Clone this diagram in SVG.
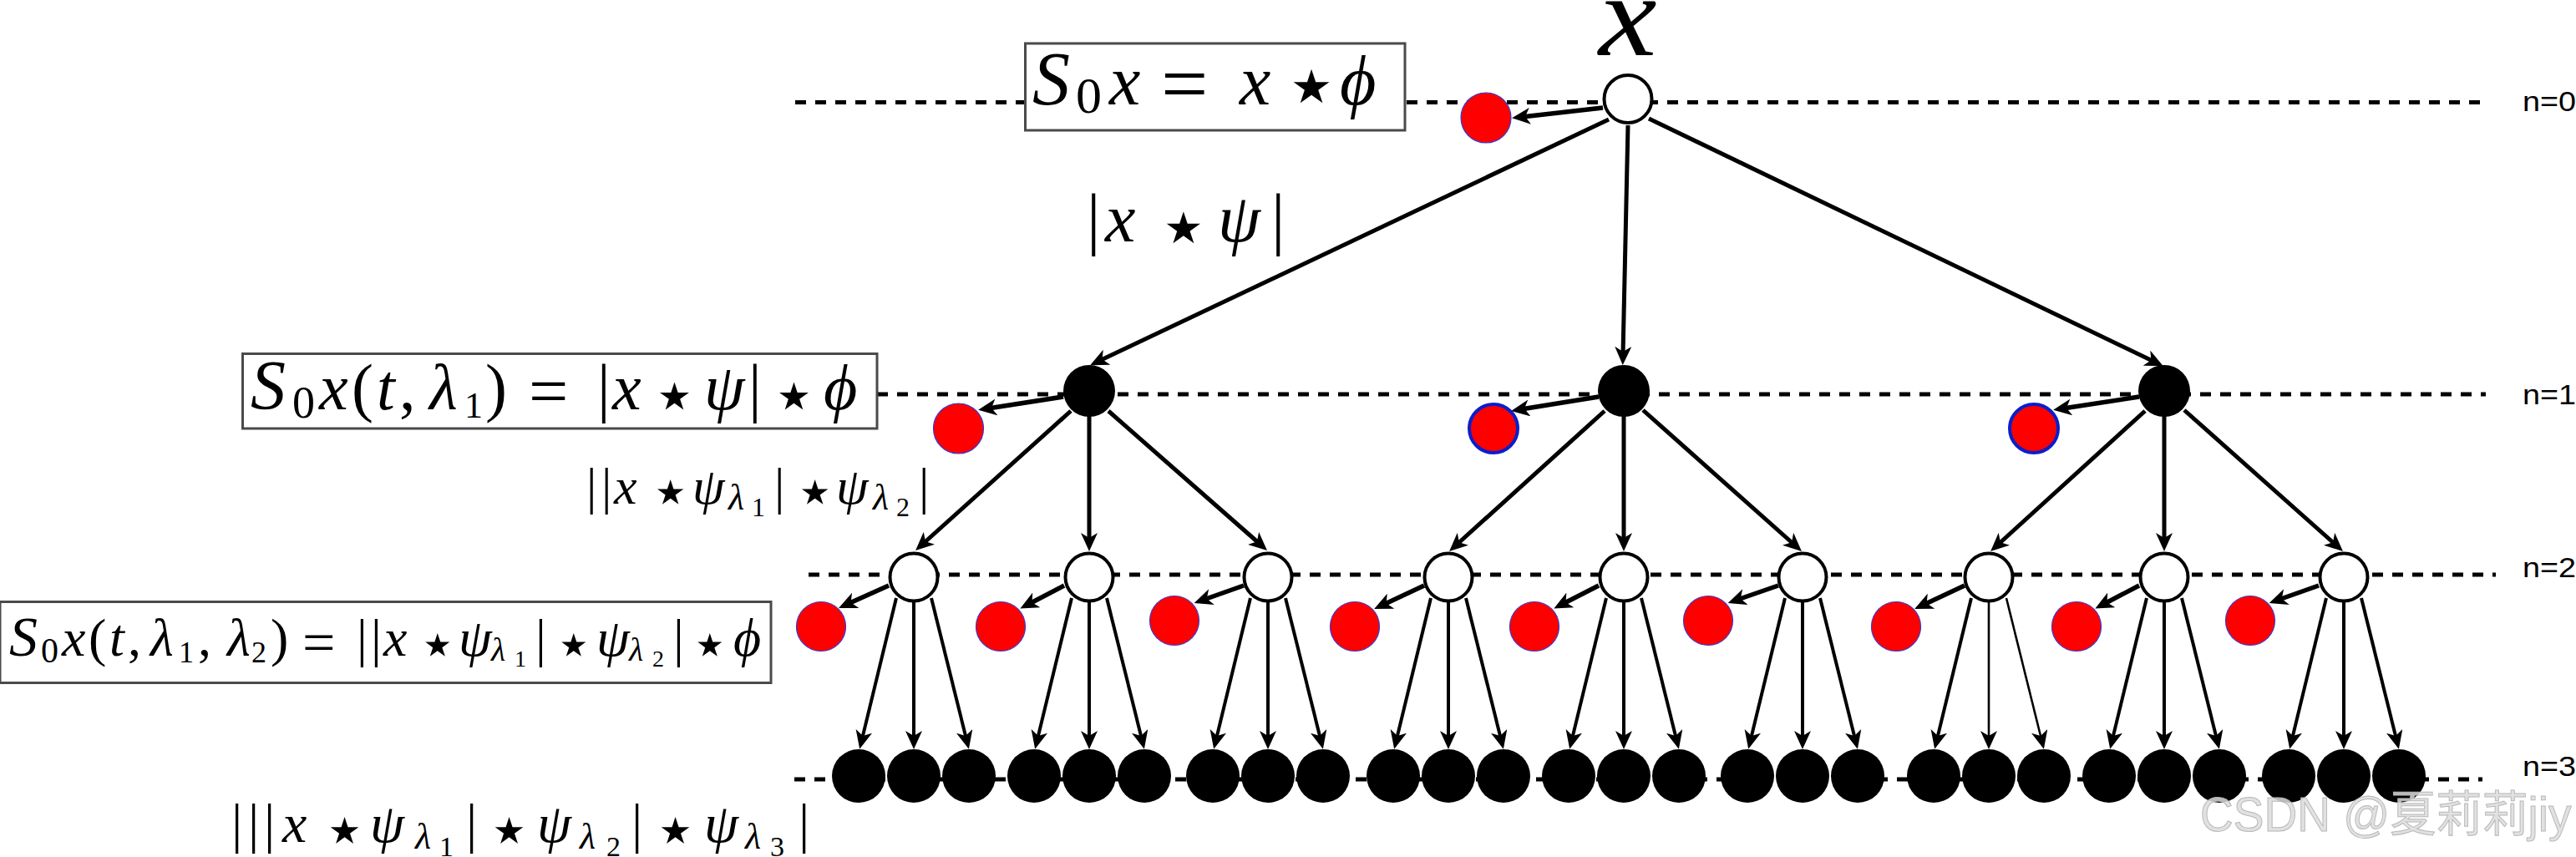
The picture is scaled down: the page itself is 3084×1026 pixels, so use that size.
<svg xmlns="http://www.w3.org/2000/svg" width="3084" height="1026" viewBox="0 0 3084 1026">
<style>
.d{stroke:#000;stroke-width:5;stroke-dasharray:13 11;fill:none}
.e{stroke:#000;stroke-width:5;fill:none;marker-end:url(#a)}
.f{stroke:#000;stroke-width:4;fill:none;marker-end:url(#a)}
.t{stroke:#000;stroke-width:2.6;fill:none;marker-end:url(#a)}
.h{stroke:#000;stroke-width:5.5;fill:none;marker-end:url(#a)}
.w{fill:#fff;stroke:#000;stroke-width:4}
.b{fill:#000}
.r{fill:#f00;stroke:#3a3ad0;stroke-width:1.2}
.rb{fill:#f00;stroke:#0a1ecc;stroke-width:4}
.bx{fill:#fff;stroke:#4a4a4a;stroke-width:3}
text{fill:#000;white-space:pre}
.m{font-family:"Liberation Serif",serif;font-style:italic}
.u{font-family:"Liberation Serif",serif}
.s{font-family:"DejaVu Sans",sans-serif}
.n{font-family:"Liberation Sans",sans-serif;font-size:33px}
</style>
<defs>
<marker id="a" markerUnits="userSpaceOnUse" markerWidth="22" markerHeight="20" refX="10" refY="10" orient="auto" viewBox="0 0 22 20"><path d="M0 0L22 10L0 20L6 10Z" fill="#000"/></marker>
</defs>
<rect width="3084" height="1026" fill="#fff"/>
<g id="levels">
<path class="d" d="M952 122.500H1230M1684 122.500H2974"/>
<path class="d" d="M1050 472H2976"/>
<path class="d" d="M968 688H2988"/>
<path class="d" d="M951 933H2972"/>
</g>
<g id="connectors">
<path class="e" d="M1926 143L1316 432"/>
<path class="e" d="M1949 150L1943 425"/>
<path class="e" d="M1974 142L2579 433"/>
<path class="h" d="M1919 129L1822 140"/>
<path class="e" d="M1282 492L1105 651"/>
<path class="e" d="M1304 498V648"/>
<path class="e" d="M1327 492L1508 651"/>
<path class="e" d="M1921 492L1744 652"/>
<path class="e" d="M1944 498V648"/>
<path class="e" d="M1967 491L2148 652"/>
<path class="e" d="M2568 492L2392 652"/>
<path class="e" d="M2591 498V648"/>
<path class="e" d="M2615 491L2796 652"/>
<path class="h" d="M1273 475L1183 489"/>
<path class="h" d="M1914 475L1821 490"/>
<path class="h" d="M2561 475L2470 489"/>
<path class="h" d="M1064 701L1015 723"/>
<path class="h" d="M1274 701L1232 723"/>
<path class="h" d="M1489 701L1441 718"/>
<path class="h" d="M1705 701L1656 724"/>
<path class="h" d="M1914 701L1871 723"/>
<path class="h" d="M2129 701L2080 718"/>
<path class="h" d="M2352 701L2303 724"/>
<path class="h" d="M2561 701L2519 723"/>
<path class="h" d="M2776 701L2728 718"/>
<path class="f" d="M1073 716L1032 885"/>
<path class="f" d="M1094 720V885"/>
<path class="f" d="M1115 716L1157 885"/>
<path class="f" d="M1283 716L1242 885"/>
<path class="f" d="M1304 720V885"/>
<path class="f" d="M1325 716L1367 885"/>
<path class="f" d="M1497 716L1456 885"/>
<path class="f" d="M1518 720V885"/>
<path class="f" d="M1539 716L1581 885"/>
<path class="f" d="M1713 716L1672 885"/>
<path class="f" d="M1734 720V885"/>
<path class="f" d="M1755 716L1797 885"/>
<path class="f" d="M1923 716L1882 885"/>
<path class="f" d="M1944 720V885"/>
<path class="f" d="M1965 716L2007 885"/>
<path class="f" d="M2137 716L2096 885"/>
<path class="f" d="M2158 720V885"/>
<path class="f" d="M2179 716L2221 885"/>
<path class="f" d="M2360 716L2319 885"/>
<path class="t" d="M2381 720V885"/>
<path class="t" d="M2402 716L2444 885"/>
<path class="f" d="M2570 716L2529 885"/>
<path class="f" d="M2591 720V885"/>
<path class="f" d="M2612 716L2654 885"/>
<path class="f" d="M2785 716L2744 885"/>
<path class="f" d="M2806 720V885"/>
<path class="f" d="M2827 716L2869 885"/>
</g>
<g id="n0"><circle class="w" cx="1949" cy="118.500" r="28.500"/></g>
<g id="r0"><circle class="r" cx="1779" cy="141" r="30"/></g>
<g id="n1a"><circle class="b" cx="1304" cy="468" r="31"/></g>
<g id="n1b"><circle class="b" cx="1944" cy="468" r="31"/></g>
<g id="n1c"><circle class="b" cx="2591" cy="468" r="31"/></g>
<g id="r1a"><circle class="r" cx="1147.500" cy="513" r="30"/></g>
<g id="r1b"><circle class="rb" cx="1788" cy="513" r="29"/></g>
<g id="r1c"><circle class="rb" cx="2435" cy="513" r="29"/></g>
<g id="n2a"><circle class="w" cx="1094" cy="691" r="28.500"/></g>
<g id="n2b"><circle class="w" cx="1304" cy="691" r="28.500"/></g>
<g id="n2c"><circle class="w" cx="1518" cy="691" r="28.500"/></g>
<g id="n2d"><circle class="w" cx="1734" cy="691" r="28.500"/></g>
<g id="n2e"><circle class="w" cx="1944" cy="691" r="28.500"/></g>
<g id="n2f"><circle class="w" cx="2158" cy="691" r="28.500"/></g>
<g id="n2g"><circle class="w" cx="2381" cy="691" r="28.500"/></g>
<g id="n2h"><circle class="w" cx="2591" cy="691" r="28.500"/></g>
<g id="n2i"><circle class="w" cx="2806" cy="691" r="28.500"/></g>
<g id="r2a"><circle class="r" cx="983" cy="750" r="29.500"/></g>
<g id="r2b"><circle class="r" cx="1198" cy="750" r="29.500"/></g>
<g id="r2c"><circle class="r" cx="1406" cy="743" r="29.500"/></g>
<g id="r2d"><circle class="r" cx="1622" cy="750" r="29.500"/></g>
<g id="r2e"><circle class="r" cx="1837" cy="750" r="29.500"/></g>
<g id="r2f"><circle class="r" cx="2045" cy="743" r="29.500"/></g>
<g id="r2g"><circle class="r" cx="2270" cy="750" r="29.500"/></g>
<g id="r2h"><circle class="r" cx="2486" cy="750" r="29.500"/></g>
<g id="r2i"><circle class="r" cx="2694" cy="743" r="29.500"/></g>
<g id="n3" class="b">
<g id="n3a"><circle cx="1028" cy="929" r="32"/><circle cx="1094" cy="929" r="32"/><circle cx="1160" cy="929" r="32"/></g>
<g id="n3b"><circle cx="1238" cy="929" r="32"/><circle cx="1304" cy="929" r="32"/><circle cx="1370" cy="929" r="32"/></g>
<g id="n3c"><circle cx="1452" cy="929" r="32"/><circle cx="1518" cy="929" r="32"/><circle cx="1584" cy="929" r="32"/></g>
<g id="n3d"><circle cx="1668" cy="929" r="32"/><circle cx="1734" cy="929" r="32"/><circle cx="1800" cy="929" r="32"/></g>
<g id="n3e"><circle cx="1878" cy="929" r="32"/><circle cx="1944" cy="929" r="32"/><circle cx="2010" cy="929" r="32"/></g>
<g id="n3f"><circle cx="2092" cy="929" r="32"/><circle cx="2158" cy="929" r="32"/><circle cx="2224" cy="929" r="32"/></g>
<g id="n3g"><circle cx="2315" cy="929" r="32"/><circle cx="2381" cy="929" r="32"/><circle cx="2447" cy="929" r="32"/></g>
<g id="n3h"><circle cx="2525" cy="929" r="32"/><circle cx="2591" cy="929" r="32"/><circle cx="2657" cy="929" r="32"/></g>
<g id="n3i"><circle cx="2740" cy="929" r="32"/><circle cx="2806" cy="929" r="32"/><circle cx="2872" cy="929" r="32"/></g>
</g>
<g id="label-x"><text class="m" transform="translate(1914 66) scale(1.12 1)" font-size="140">x</text></g>
<g id="box0">
<rect class="bx" x="1227.500" y="52" width="454.500" height="104"/>
<text y="125" font-size="84"><tspan class="m" x="1236" font-size="90">S</tspan><tspan class="u" x="1288" y="135" font-size="62">0</tspan><tspan class="m" x="1328" y="125">x</tspan><tspan class="u" x="1390" y="134" font-size="100">=</tspan><tspan class="m" x="1484" y="125">x</tspan><tspan class="s" x="1535" y="140" font-size="112">⋆</tspan><tspan class="m" x="1604" y="125">ϕ</tspan></text>
</g>
<g id="label-abs"><text y="289" font-size="82"><tspan class="u" x="1301">|</tspan><tspan class="m" x="1323">x</tspan><tspan class="s" x="1384" y="307" font-size="105">⋆</tspan><tspan class="m" x="1458" y="289">ψ</tspan><tspan class="u" x="1522">|</tspan></text></g>
<g id="box1">
<rect class="bx" x="290.500" y="423.500" width="759.500" height="89.500"/>
<text y="490" font-size="78"><tspan class="m" x="300" font-size="84">S</tspan><tspan class="u" x="350" y="500" font-size="54">0</tspan><tspan class="m" x="382" y="490">x</tspan><tspan class="u" x="421">(</tspan><tspan class="m" x="451">t</tspan><tspan class="u" x="478">,</tspan><tspan class="m" x="514">λ</tspan><tspan class="u" x="556" y="500" font-size="44">1</tspan><tspan class="u" x="581" y="490">)</tspan><tspan class="u" x="633" y="497" font-size="84">=</tspan><tspan class="u" x="715" y="490">|</tspan><tspan class="m" x="733">x</tspan><tspan class="s" x="779" y="504" font-size="91">⋆</tspan><tspan class="m" x="843" y="490">ψ</tspan><tspan class="u" x="896">|</tspan><tspan class="s" x="922" y="504" font-size="91">⋆</tspan><tspan class="m" x="986" y="490">ϕ</tspan></text>
</g>
<g id="label-l2"><text y="603" font-size="62"><tspan class="u" x="702">|</tspan><tspan class="u" x="720">|</tspan><tspan class="m" x="735">x</tspan><tspan class="s" x="777" y="616" font-size="82">⋆</tspan><tspan class="m" x="829" y="603">ψ</tspan><tspan class="m" x="872" y="610" font-size="44">λ</tspan><tspan class="u" x="900" y="618" font-size="32">1</tspan><tspan class="u" x="927" y="603">|</tspan><tspan class="s" x="950" y="616" font-size="82">⋆</tspan><tspan class="m" x="1001" y="603">ψ</tspan><tspan class="m" x="1045" y="610" font-size="44">λ</tspan><tspan class="u" x="1073" y="618" font-size="32">2</tspan><tspan class="u" x="1100" y="603">|</tspan></text></g>
<g id="box2">
<rect class="bx" x="0" y="720.500" width="923" height="97"/>
<text y="785" font-size="64"><tspan class="m" x="11" font-size="68">S</tspan><tspan class="u" x="49" y="793" font-size="42">0</tspan><tspan class="m" x="74" y="785">x</tspan><tspan class="u" x="106">(</tspan><tspan class="m" x="131">t</tspan><tspan class="u" x="153">,</tspan><tspan class="m" x="180">λ</tspan><tspan class="u" x="214" y="793" font-size="36">1</tspan><tspan class="u" x="237" y="785">,</tspan><tspan class="m" x="272">λ</tspan><tspan class="u" x="301" y="793" font-size="36">2</tspan><tspan class="u" x="324" y="785">)</tspan><tspan class="u" x="362" y="793" font-size="70">=</tspan><tspan class="u" x="427" y="785">|</tspan><tspan class="u" x="444">|</tspan><tspan class="m" x="459">x</tspan><tspan class="s" x="500" y="797" font-size="76">⋆</tspan><tspan class="m" x="549" y="785">ψ</tspan><tspan class="m" x="588" y="791" font-size="40">λ</tspan><tspan class="u" x="616" y="798" font-size="28">1</tspan><tspan class="u" x="641" y="785">|</tspan><tspan class="s" x="663" y="797" font-size="76">⋆</tspan><tspan class="m" x="714" y="785">ψ</tspan><tspan class="m" x="753" y="791" font-size="40">λ</tspan><tspan class="u" x="781" y="798" font-size="28">2</tspan><tspan class="u" x="806" y="785">|</tspan><tspan class="s" x="826" y="797" font-size="76">⋆</tspan><tspan class="m" x="878" y="785">ϕ</tspan></text>
</g>
<g id="label-l3"><text y="1008" font-size="66"><tspan class="u" x="277">|</tspan><tspan class="u" x="297">|</tspan><tspan class="u" x="316">|</tspan><tspan class="m" x="338">x</tspan><tspan class="s" x="385" y="1023" font-size="88">⋆</tspan><tspan class="m" x="443" y="1008">ψ</tspan><tspan class="m" x="497" y="1016" font-size="44">λ</tspan><tspan class="u" x="526" y="1025" font-size="34">1</tspan><tspan class="u" x="558" y="1008">|</tspan><tspan class="s" x="582" y="1023" font-size="88">⋆</tspan><tspan class="m" x="643" y="1008">ψ</tspan><tspan class="m" x="694" y="1016" font-size="44">λ</tspan><tspan class="u" x="726" y="1025" font-size="34">2</tspan><tspan class="u" x="756" y="1008">|</tspan><tspan class="s" x="781" y="1023" font-size="88">⋆</tspan><tspan class="m" x="843" y="1008">ψ</tspan><tspan class="m" x="892" y="1016" font-size="44">λ</tspan><tspan class="u" x="922" y="1025" font-size="34">3</tspan><tspan class="u" x="956" y="1008">|</tspan></text></g>
<g id="n-labels">
<text class="n" x="3020" y="133" textLength="64" lengthAdjust="spacingAndGlyphs">n=0</text>
<text class="n" x="3020" y="484" textLength="64" lengthAdjust="spacingAndGlyphs">n=1</text>
<text class="n" x="3020" y="691" textLength="64" lengthAdjust="spacingAndGlyphs">n=2</text>
<text class="n" x="3020" y="929" textLength="64" lengthAdjust="spacingAndGlyphs">n=3</text>
</g>
<g id="watermark"><text transform="translate(2634 995) scale(.95 1)" font-size="58" font-family="'Liberation Sans','Noto Sans CJK SC',sans-serif" style="fill:#dcdcdc;stroke:#b8b8b8;stroke-width:1;fill-opacity:.85">CSDN @夏莉莉jiy</text></g>
</svg>
